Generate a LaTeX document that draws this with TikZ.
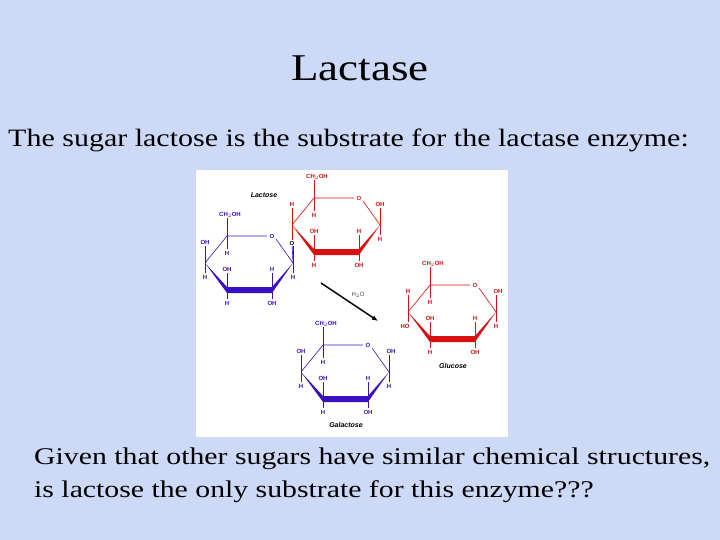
\documentclass[tikz,border=0pt]{standalone}
\usepackage{fontspec}
\usepackage{graphicx}
\setmainfont{Liberation Serif}
\newfontfamily\chem{Liberation Sans}
\usetikzlibrary{arrows.meta}
\definecolor{bg}{HTML}{CCDAF8}
\definecolor{cblue}{HTML}{3A10C0}
\definecolor{cred}{HTML}{D81010}
\tikzset{lab/.style={font=\chem\bfseries\fontsize{6}{6}\selectfont,inner sep=0.3pt},
 bond/.style={line width=0.6pt}}
\newcommand\haworth[1]{%
 \fill[#1] (-22,27) -- (0,51) -- (45,51) -- (66,27) -- (45,57) -- (0,57) -- cycle;
 \draw[#1,bond] (-22,27) -- (0,0) -- (40,0) (49,3) -- (66,27);
 \node[lab,text=#1] at (45,0) {O};
 \draw[#1,bond] (0,0) -- (0,-18) (0,0) -- (0,13)
  (-22,27) -- (-22,10) (-22,27) -- (-22,37)
  (0,54) -- (0,37) (0,54) -- (0,63)
  (45,54) -- (45,37) (45,54) -- (45,63)
  (66,27) -- (66,10) (66,27) -- (66,37);
 \node[lab,text=#1] at (3,-21) {CH$_2$OH};
 \node[lab,text=#1] at (0,17) {H};
 \node[lab,text=#1] at (0,33) {OH};
 \node[lab,text=#1] at (0,67) {H};
 \node[lab,text=#1] at (45,33) {H};
 \node[lab,text=#1] at (45,67) {OH};
 \node[lab,text=#1] at (66,41) {H};
}
\begin{document}
\begin{tikzpicture}[x=1pt,y=-1pt]
\fill[bg] (0,0) rectangle (720,540);
\useasboundingbox (0,0) rectangle (720,540);
\node[font=\fontsize{36}{36}\selectfont] (title) at (360,68) {\scalebox{1.25}[1.05]{Lactase}};
\node[font=\fontsize{25}{25}\selectfont,anchor=west,inner sep=0] (intro) at (8,140) {\scalebox{1.2}[1]{The sugar lactose is the substrate for the lactase enzyme:}};
\fill[white] (196,170) rectangle (508,437);
% lactose galactose unit (blue)
\begin{scope}[shift={(227,236)}]
 \haworth{cblue}
 \node[lab,text=cblue] at (-22,6) {OH};
 \node[lab,text=cblue] at (-22,41) {H};
\end{scope}
% lactose glucose unit (red)
\begin{scope}[shift={(314,198)}]
 \haworth{cred}
 \node[lab,text=cred] at (-22,6) {H};
 \node[lab,text=cred] at (66,6) {OH};
\end{scope}
\node[lab,text=black] (glyO) at (292,243) {O};
\draw[bond,cblue] (293,263) -- (glyO);
\draw[bond,cred] (292,227) -- (glyO);
% glucose
\begin{scope}[shift={(430,285)}]
 \haworth{cred}
 \node[lab,text=cred] at (-22,6) {H};
 \node[lab,text=cred] at (-25,41) {HO};
 \node[lab,text=cred] at (68,6) {OH};
\end{scope}
% galactose
\begin{scope}[shift={(323,345)}]
 \haworth{cblue}
 \node[lab,text=cblue] at (-22,6) {OH};
 \node[lab,text=cblue] at (-22,41) {H};
 \node[lab,text=cblue] at (68,6) {OH};
\end{scope}
\coordinate (a1) at (321,283);
\coordinate (a2) at (378,321);
\draw[line width=1.4pt,-{Latex[length=6pt,width=5pt]}] (a1) -- (a2);
\node[lab,text=black!70,font=\chem\fontsize{6}{6}\selectfont] (w) at (358,295) {H$_2$O};
\node[font=\chem\bfseries\itshape\fontsize{7}{7}\selectfont] (l1) at (264,195) {Lactose};
\node[font=\chem\bfseries\itshape\fontsize{7}{7}\selectfont] (l2) at (453,366) {Glucose};
\node[font=\chem\bfseries\itshape\fontsize{7}{7}\selectfont] (l3) at (346,425) {Galactose};
\node[font=\fontsize{24}{24}\selectfont,anchor=west,inner sep=0] (q1) at (34,459) {\scalebox{1.24}[1]{Given that other sugars have similar chemical structures,}};
\node[font=\fontsize{24}{24}\selectfont,anchor=west,inner sep=0] (q2) at (34,492) {\scalebox{1.24}[1]{is lactose the only substrate for this enzyme???}};
\end{tikzpicture}
\end{document}
